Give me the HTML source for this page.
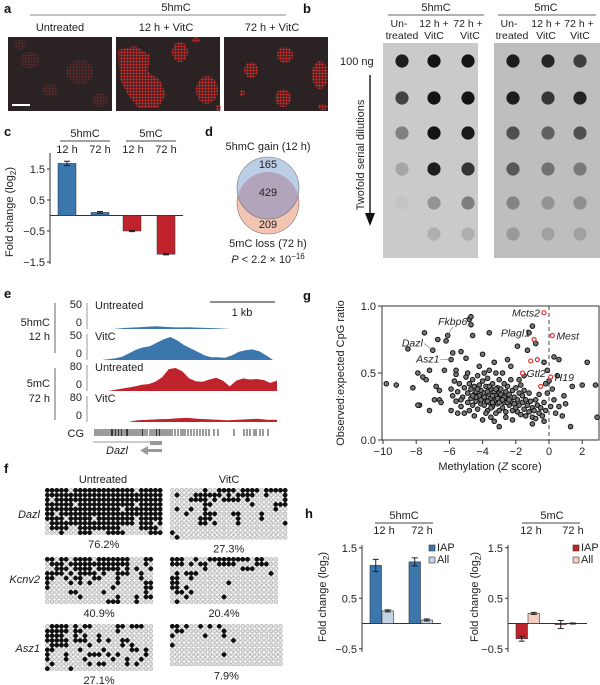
<!DOCTYPE html>
<html><head><meta charset="utf-8"><style>
body{margin:0;background:#fff}
svg{display:block;font-family:"Liberation Sans",sans-serif}
.t{font-size:11px;fill:#222}
.l{font-size:13px;font-weight:bold;fill:#111}
.k{font-size:10.5px;fill:#222}
.i{font-style:italic}
</style></head><body>
<svg id="s" width="600" height="685" viewBox="0 0 600 685" xmlns="http://www.w3.org/2000/svg">
<defs>
<pattern id="cells" width="3" height="3" patternUnits="userSpaceOnUse"><circle cx="1.5" cy="1.5" r="1.15" fill="#e02a2a"/></pattern>
<pattern id="cellsDim" width="3" height="3" patternUnits="userSpaceOnUse"><circle cx="1.5" cy="1.5" r="1.1" fill="#5e2a2c"/></pattern>
</defs>
<!-- panel a -->
<g>
<text class="l" x="4" y="13">a</text>
<text class="t" x="176" y="11" text-anchor="middle">5hmC</text>
<line x1="30" y1="15" x2="286" y2="15" stroke="#888"/>
<text class="t" x="60" y="31" text-anchor="middle">Untreated</text>
<text class="t" x="166" y="31" text-anchor="middle">12 h + VitC</text>
<text class="t" x="272" y="31" text-anchor="middle">72 h + VitC</text>
<rect x="8" y="37" width="104" height="74" fill="#2b2223"/>
<rect x="116" y="37" width="104" height="74" fill="#2b2223"/>
<rect x="224" y="37" width="104" height="74" fill="#2b2223"/>
<g fill="url(#cellsDim)">
<ellipse cx="30" cy="60" rx="10" ry="8"/><ellipse cx="80" cy="72" rx="14" ry="12"/><ellipse cx="50" cy="90" rx="8" ry="6"/><ellipse cx="100" cy="100" rx="8" ry="7"/><ellipse cx="20" cy="45" rx="6" ry="5"/>
</g>
<g fill="url(#cells)">
<path d="M118 50 L135 46 L150 55 L148 72 L160 80 L166 95 L158 108 L138 108 L128 95 L120 80 Z"/>
<ellipse cx="180" cy="52" rx="8" ry="10"/><ellipse cx="207" cy="90" rx="11" ry="14"/><ellipse cx="196" cy="40" rx="4" ry="3"/><ellipse cx="218" cy="108" rx="3" ry="3"/>
<ellipse cx="251" cy="70" rx="7" ry="8"/><ellipse cx="285" cy="55" rx="8" ry="8"/><ellipse cx="283" cy="98" rx="8" ry="9"/><ellipse cx="320" cy="75" rx="8" ry="14"/><ellipse cx="242" cy="93" rx="3" ry="3"/><ellipse cx="323" cy="107" rx="5" ry="3"/>
</g>
<line x1="12" y1="105" x2="30" y2="105" stroke="#fff" stroke-width="2"/>
</g>
<!-- panel b -->
<g>
<text class="l" x="303" y="13">b</text>
<text class="t" x="436" y="11" text-anchor="middle">5hmC</text>
<line x1="388" y1="15" x2="484" y2="15" stroke="#666"/>
<text class="t" x="546" y="11" text-anchor="middle">5mC</text>
<line x1="498" y1="15" x2="596" y2="15" stroke="#666"/>
<g class="k" text-anchor="middle">
<text x="399" y="27">Un-</text><text x="402" y="39">treated</text>
<text x="434" y="27">12 h +</text><text x="434" y="39">VitC</text>
<text x="468" y="27">72 h +</text><text x="470" y="39">VitC</text>
<text x="509" y="27">Un-</text><text x="512" y="39">treated</text>
<text x="546" y="27">12 h +</text><text x="546" y="39">VitC</text>
<text x="579" y="27">72 h +</text><text x="580" y="39">VitC</text>
</g>
<rect x="383" y="43" width="95" height="215" fill="#cacaca"/>
<rect x="494" y="43" width="106" height="215" fill="#bebebe"/>
<text class="t" x="340" y="65">100 ng</text>
<line x1="370" y1="75" x2="370" y2="215" stroke="#111" stroke-width="1.4"/>
<path d="M365 213 L370 226 L375 213 Z" fill="#111"/>
<text class="t" transform="translate(364,155) rotate(-90)" text-anchor="middle">Twofold serial dilutions</text>
<g id="dots"></g>
</g>
<!-- panel c -->
<g>
<text class="l" x="4" y="136">c</text>
<text class="t" x="85" y="137" text-anchor="middle">5hmC</text>
<line x1="60" y1="141" x2="110" y2="141" stroke="#444"/>
<text class="t" x="151" y="137" text-anchor="middle">5mC</text>
<line x1="126" y1="141" x2="176" y2="141" stroke="#444"/>
<g class="t" text-anchor="middle"><text x="67" y="153">12 h</text><text x="100" y="153">72 h</text><text x="133" y="153">12 h</text><text x="166" y="153">72 h</text></g>
<text class="t" transform="translate(13,212) rotate(-90)" text-anchor="middle">Fold change (log<tspan font-size="8" dy="3">2</tspan><tspan dy="-3">)</tspan></text>
<g id="chartC"></g>
</g>
<!-- panel d -->
<g>
<text class="l" x="205" y="136">d</text>
<text class="t" x="268" y="150" text-anchor="middle">5hmC gain (12 h)</text>
<circle cx="268" cy="203" r="31" fill="#f3c4b1" stroke="#777" stroke-width="0.6"/>
<circle cx="268" cy="188" r="31" fill="#bccde6" stroke="#777" stroke-width="0.6"/>
<clipPath id="vc"><circle cx="268" cy="203" r="31"/></clipPath>
<circle cx="268" cy="188" r="31" fill="#b2a5bb" stroke="#777" stroke-width="0.6" clip-path="url(#vc)"/>
<text class="t" x="268" y="168" text-anchor="middle">165</text>
<text class="t" x="268" y="196" text-anchor="middle">429</text>
<text class="t" x="268" y="228" text-anchor="middle">209</text>
<text class="t" x="268" y="247" text-anchor="middle">5mC loss (72 h)</text>
<text class="t" x="268" y="263" text-anchor="middle"><tspan class="i">P</tspan> &lt; 2.2 × 10<tspan font-size="8" dy="-4">−16</tspan></text>
</g>
<!-- panel e -->
<g>
<text class="l" x="4" y="298">e</text>
<text class="t" x="50" y="326" text-anchor="end">5hmC</text><text class="t" x="50" y="340" text-anchor="end">12 h</text>
<line x1="55" y1="303" x2="55" y2="353" stroke="#888" stroke-width="1.3"/>
<text class="t" x="50" y="387" text-anchor="end">5mC</text><text class="t" x="50" y="402" text-anchor="end">72 h</text>
<line x1="55" y1="368" x2="55" y2="420" stroke="#888" stroke-width="1.3"/>
<line x1="210" y1="302" x2="275" y2="302" stroke="#222"/>
<text class="t" x="242" y="316" text-anchor="middle">1 kb</text>
<g id="tracks"></g>
<text class="t" x="84" y="437" text-anchor="end">CG</text>
<g id="cg"></g>
<line x1="93" y1="442" x2="160" y2="442" stroke="#999"/>
<rect x="150" y="441" width="12" height="4" fill="#999"/>
<path d="M162 449 L148 449 L148 446 L140 450.5 L148 455 L148 452 L162 452 Z" fill="#999"/>
<text class="t i" x="106" y="454">Dazl</text>
</g>
<!-- panel f -->
<g>
<text class="l" x="4" y="473">f</text>
<text class="t" x="103" y="483" text-anchor="middle">Untreated</text>
<text class="t" x="229" y="483" text-anchor="middle">VitC</text>
<text class="t i" x="40" y="518" text-anchor="end">Dazl</text>
<text class="t i" x="40" y="583" text-anchor="end">Kcnv2</text>
<text class="t i" x="40" y="652" text-anchor="end">Asz1</text>
<g id="grids"></g>
</g>
<!-- panel g -->
<g>
<text class="l" x="303" y="300">g</text>
<text class="t" transform="translate(344,373) rotate(-90)" text-anchor="middle">Observed:expected CpG ratio</text>
<text class="t" x="490" y="470" text-anchor="middle">Methylation (<tspan class="i">Z</tspan> score)</text>
<g id="scatter"></g>
</g>
<!-- panel h -->
<g>
<text class="l" x="305" y="518">h</text>
<text class="t" x="404" y="519" text-anchor="middle">5hmC</text>
<line x1="375" y1="523" x2="433" y2="523" stroke="#444"/>
<text class="t" x="384" y="534" text-anchor="middle">12 h</text><text class="t" x="422" y="534" text-anchor="middle">72 h</text>
<text class="t" x="552" y="519" text-anchor="middle">5mC</text>
<line x1="522" y1="523" x2="580" y2="523" stroke="#444"/>
<text class="t" x="531" y="534" text-anchor="middle">12 h</text><text class="t" x="573" y="534" text-anchor="middle">72 h</text>
<text class="t" transform="translate(326,597) rotate(-90)" text-anchor="middle">Fold change (log<tspan font-size="8" dy="3">2</tspan><tspan dy="-3">)</tspan></text>
<text class="t" transform="translate(478,597) rotate(-90)" text-anchor="middle">Fold change (log<tspan font-size="8" dy="3">2</tspan><tspan dy="-3">)</tspan></text>
<g id="chartH"></g>
</g>
</svg>
<script>
// ---- data ----
const blotCols5hmC = ["Untreated","12h","72h"];
const blot5hmC = [[0.95,0.75,0.4,0.2,0.04,0],[1,1,1,0.95,0.3,0.15],[1,1,0.97,0.82,0.42,0.15]];
const blot5mC = [[0.95,0.95,0.65,0.6,0.35,0.22],[0.9,0.8,0.55,0.45,0.25,0.17],[0.75,0.9,0.65,0.4,0.28,0.17]];

const cLabels = ["5hmC 12h","5hmC 72h","5mC 12h","5mC 72h"];
const cValues = [1.68,0.1,-0.5,-1.25];
const cErrors = [0.07,0.03,0.02,0.02];
const cTicks = [1.5,0.5,-0.5,-1.5];

const trackNames = ["5hmC untreated","5hmC VitC","5mC untreated","5mC VitC"];
const trackScale = ["50","50","80","80"];
const track1 = [0,0.04,0.06,0.08,0.1,0.12,0.1,0.08,0.07,0.08,0.06,0.05,0.04,0.02,0];
const track2 = [0,0.04,0.08,0.15,0.3,0.45,0.55,0.6,0.75,0.9,1.0,0.85,0.65,0.5,0.35,0.2,0.12,0.12,0.1,0.2,0.35,0.42,0.46,0.38,0.2,0];
const track3 = [0,0.05,0.1,0.15,0.2,0.27,0.3,0.4,0.6,0.95,1.0,0.85,0.55,0.42,0.4,0.5,0.58,0.45,0.2,0.45,0.55,0.5,0.52,0.48,0.35,0.45];
const track4 = [0,0.08,0.1,0.12,0.13,0.16,0.18,0.14,0.12,0.1,0.08,0.1,0.12,0.14,0.1,0.1];

const fGrids = {
 dazlU:["1111101111111111111011111","1111111111111111111111111","1011111111111111111111111","1111110111111111111011111","1111111111111111011111111","1101111111111111111111111","1111011111011111111011111","0111111111111111111011101","0111100111111111000011110","0001000111000111100000111"],
 dazlV:["0000000100111101111011111","0100011111101011110010001","0000111101011110100000001","0000000110000000010000111","0100100100000000000000100","0001000111000110000100000","0000001110000010000100000","0000001101000010000000001","0000000000000000000000000","1000000000000000000000000","0100000000000000000000000"],
 kcnU:["11011011110111111100011","01110111111111111100010","00111011110111110101001","11110101111010011100100","11001011001100010000100","10000101010000010000011","10000000000000100000011","00000110000010000000010","00000001000000010001011","00000000000001110001000"],
 kcnV:["11100100111111111011000","11101011001111000011100","00000001000000011100000","01011100000000000000010","11001000000000000000000","11000000000010000000000","11010000000000000000000","01101000000000000000000","00010000000100000000000","01000000000000000000000"],
 aszU:["01111010110000011011100","11111011000000010000000","11110010100100000000000","11111011100101001100000","01111000010000001010000","11000001000010000011010","10001000011101010000010","10001000100000100100100","01000000010110000101000","10000100000000000000000"],
 aszV:["110100101010000000000000","011000000001000000000000","100000010001000000000000","000000000000010000000000","100000000000000000000000","000000000000000000000000","000000000001000000000000","000000000000000000000000","000000000000000000000000"]
};
const fPercents = ["76.2%","27.3%","40.9%","20.4%","27.1%","7.9%"];

const scatterX = [-9.8,-9.2,-8.5,-8.2,-7.9,-7.8,-7.6,-7.5,-7.4,-7.2,-7,-6.9,-6.8,-6.7,-6.6,-6.3,-6.2,-6.1,-5.9,-5.8,-5.6,-5.3,-4.8,-4.7,-4.7,-4.6,-3.6,-1.9,-1.0,-1.2,-0.8,-1.3,0.3,0.6,2.3,2.0,2.8,2.9,1.4,1.3,0.8,0.9,1.0,0.5,-0.3,-0.1,-2.5,-3.3,-4.0,-5.0,-6.6,-7.9,-7.2,-6.5,-5.5,-1.0,-0.3,-2.2,-3.0,-4.0,
-5.9,-5.8,-5.7,-5.6,-5.5,-5.4,-5.3,-5.2,-5.1,-5.0,-5.9,-5.6,-5.3,-5.1,
-4.9,-4.9,-4.8,-4.8,-4.7,-4.7,-4.6,-4.6,-4.5,-4.5,-4.4,-4.4,-4.3,-4.3,-4.2,-4.2,-4.1,-4.1,-4.0,-4.0,-4.9,-4.5,-4.2,
-3.9,-3.9,-3.8,-3.8,-3.7,-3.7,-3.6,-3.6,-3.5,-3.5,-3.4,-3.4,-3.3,-3.3,-3.2,-3.2,-3.1,-3.1,-3.0,-3.0,-3.9,-3.6,-3.2,-3.5,-3.8,-3.3,
-2.9,-2.9,-2.8,-2.8,-2.7,-2.7,-2.6,-2.6,-2.5,-2.5,-2.4,-2.4,-2.3,-2.3,-2.2,-2.2,-2.1,-2.1,-2.0,-2.0,-2.8,-2.3,-2.6,
-1.9,-1.9,-1.8,-1.8,-1.7,-1.7,-1.6,-1.6,-1.5,-1.5,-1.4,-1.4,-1.3,-1.2,-1.2,-1.1,-1.0,-1.0,-1.8,-1.5,
-0.9,-0.8,-0.8,-0.7,-0.6,-0.6,-0.5,-0.4,-0.3,-0.2,-0.1,0.0,0.1,0.3,0.4,0.6,-0.2,0.2,
-4.4,-4.1,-3.9,-3.7,-3.7,-3.4,-3.4,-3.1,-3.0,-2.9,-2.7,-2.5,-3.6,-4.3,-3.2,-2.8,-4.6,-3.5,-3.0,-2.4];
const scatterY = [0.42,0.41,0.68,0.39,0.5,0.26,0.47,0.8,0.45,0.52,0.67,0.3,0.4,0.75,0.37,0.52,0.74,0.78,0.6,0.65,0.49,0.66,0.9,0.92,0.86,0.78,0.8,0.7,0.85,0.8,0.72,0.67,0.62,0.6,0.58,0.41,0.41,0.17,0.4,0.1,0.18,0.33,0.27,0.48,0.58,0.52,0.6,0.58,0.64,0.61,0.3,0.26,0.22,0.28,0.2,0.12,0.14,0.15,0.1,0.15,
0.38,0.33,0.44,0.29,0.36,0.42,0.25,0.32,0.39,0.47,0.22,0.52,0.3,0.2,
0.35,0.28,0.42,0.22,0.38,0.31,0.45,0.26,0.34,0.4,0.29,0.36,0.48,0.23,0.33,0.41,0.27,0.37,0.31,0.44,0.5,0.18,0.55,
0.35,0.26,0.4,0.3,0.22,0.46,0.34,0.28,0.38,0.31,0.25,0.42,0.36,0.29,0.33,0.2,0.39,0.27,0.35,0.45,0.5,0.52,0.5,0.17,0.2,0.14,
0.3,0.38,0.24,0.33,0.42,0.28,0.36,0.21,0.31,0.4,0.26,0.34,0.45,0.29,0.37,0.22,0.32,0.27,0.39,0.24,0.5,0.55,0.17,
0.3,0.21,0.35,0.26,0.19,0.41,0.28,0.33,0.23,0.37,0.18,0.3,0.26,0.21,0.35,0.29,0.17,0.24,0.45,0.48,
0.22,0.3,0.16,0.26,0.2,0.34,0.24,0.18,0.28,0.22,0.35,0.44,0.25,0.3,0.2,0.25,0.42,0.38,
0.32,0.3,0.32,0.36,0.29,0.33,0.28,0.31,0.28,0.34,0.32,0.28,0.4,0.38,0.38,0.3,0.33,0.24,0.22,0.3];
const imprintNames = ["Mcts2","Mest","Plagl1","","","Gtl2","H19",""];
const imprintX = [-0.3,0.2,-0.9,-1.1,-0.7,-1.6,0.1,-0.5];
const imprintY = [0.95,0.78,0.75,0.59,0.6,0.5,0.47,0.4];
const gXTicks = [-10,-8,-6,-4,-2,0,2];
const gYTicks = [0.0,0.5,1.0];

const hTicks = [1.5,0.5,-0.5];
const h5hmcIAP = [1.15,1.22], h5hmcAll = [0.25,0.07];
const h5hmcIAPerr = [0.12,0.08], h5hmcAllerr = [0.02,0.02];
const h5mcIAP = [-0.3,-0.02], h5mcAll = [0.2,0.0];
const h5mcIAPerr = [0.05,0.08], h5mcAllerr = [0.02,0.01];

// ---- drawing ----
const NS="http://www.w3.org/2000/svg";
function mk(parent,tag,attrs){const e=document.createElementNS(NS,tag);for(const k in attrs)e.setAttribute(k,attrs[k]);parent.appendChild(e);return e;}
function txt(parent,x,y,s,anchor,cls){const e=mk(parent,'text',{x:x,y:y,'text-anchor':anchor||'start',class:cls||'t'});e.textContent=s;return e;}

// b dots
(function(){
 const g=document.getElementById('dots');
 const rows=[61,98,133,169,203,234];
 function shade(v,bg){const c=Math.round(bg-(bg-20)*v);return 'rgb('+c+','+c+','+c+')';}
 [[blot5hmC,[402,434,468],202],[blot5mC,[513,548,580],190]].forEach(([data,xs,bg])=>{
  data.forEach((col,ci)=>col.forEach((v,ri)=>{
   const c=mk(g,'circle',{cx:xs[ci],cy:rows[ri],r:6.6,fill:shade(v,bg)});
   
   
  }));
 });
})();

// c bars
(function(){
 const g=document.getElementById('chartC');
 const y0=215.5, k=31; const y=v=>y0-v*k;
 const xs=[58,91,123,157], w=18;
 mk(g,'line',{x1:50,y1:153,x2:50,y2:264,stroke:'#333'});
 mk(g,'line',{x1:50,y1:y0,x2:183,y2:y0,stroke:'#333'});
 cTicks.forEach(t=>{mk(g,'line',{x1:47,y1:y(t),x2:50,y2:y(t),stroke:'#333'});txt(g,45,y(t)+4,t===1.5||t===0.5?String(t):'−'+Math.abs(t),'end');});
 cValues.forEach((v,i)=>{
  const b=mk(g,'rect',{x:xs[i],y:Math.min(y(v),y0),width:w,height:Math.abs(v*k),fill:i<2?'#3b76ad':'#c1232d',stroke:'#333','stroke-width':0.5});
  
  
  const cx=xs[i]+w/2;
  mk(g,'line',{x1:cx,y1:y(v+cErrors[i]),x2:cx,y2:y(v-cErrors[i]),stroke:'#222'});
  mk(g,'line',{x1:cx-3,y1:y(v+cErrors[i]),x2:cx+3,y2:y(v+cErrors[i]),stroke:'#222'});
  mk(g,'line',{x1:cx-3,y1:y(v-cErrors[i]),x2:cx+3,y2:y(v-cErrors[i]),stroke:'#222'});
 });
})();

// e tracks
(function(){
 const g=document.getElementById('tracks');
 const tr=[[track1,114,230,306,329,'#3b76ad','Untreated'],[track2,102,273,337,360,'#3b76ad','VitC'],[track3,108,277,368,391,'#c1232d','Untreated'],[track4,128,277,399,422,'#c1232d','VitC']];
 tr.forEach((t,i)=>{
  const [vals,x0,x1,top,base,col,lab]=t;
  mk(g,'line',{x1:87,y1:top-3,x2:87,y2:base,stroke:'#999'});
  txt(g,82,top+2,trackScale[i],'end');
  txt(g,82,base-3,'0','end');
  txt(g,95,top+3,lab,'start');
  const n=vals.length; let d='M'+x0+' '+base;
  vals.forEach((v,j)=>{d+=' L'+(x0+(x1-x0)*j/(n-1)).toFixed(1)+' '+(base-v*(base-top)).toFixed(1);});
  d+=' L'+x1+' '+base+' Z';
  const p=mk(g,'path',{d:d,fill:col});
  
  
 });
 const cg=document.getElementById('cg');
 const cgPos=[95,97,99,101,103,105,107,109,111,112,113,115,116,118,119,121,122,124,126,127,128,130,132,134,136,138,140,142,143,145,147,150,152,154,156,157,159,160,162,164,166,168,170,172,175,178,181,183,185,188,191,194,197,200,203,206,209,214,218,234,244,247,250,254,256,260,263,268];
 cgPos.forEach(x=>mk(cg,'line',{x1:x,y1:429,x2:x,y2:436,stroke:'#222','stroke-width':0.9}));
})();

// f grids
(function(){
 const g=document.getElementById('grids');
 const s=4.7;
 const layout=[['dazlU',45,488],['dazlV',170,488],['kcnU',45,557],['kcnV',170,557],['aszU',45,624],['aszV',170,624]];
 layout.forEach(([key,x0,y0],gi)=>{
  const rows=fGrids[key]; let maxC=0;
  rows.forEach((r,ri)=>{maxC=Math.max(maxC,r.length);[...r].forEach((c,ci)=>{
   mk(g,'circle',{cx:x0+ci*s+s/2,cy:y0+ri*s+s/2,r:c==='1'?2.2:2.0,fill:c==='1'?'#111':'#e2e2e2',stroke:c==='1'?'#111':'#999','stroke-width':0.5});
  });});
  const cx=x0+maxC*s/2, yb=y0+rows.length*s+13;
  txt(g,cx,yb,fPercents[gi],'middle','t');
 });
})();

// g scatter
(function(){
 const g=document.getElementById('scatter');
 const X=v=>549+v*16.6, Y=v=>440-v*134;
 mk(g,'rect',{x:382,y:Y(1),width:217,height:134,fill:'none',stroke:'#333'});
 gXTicks.forEach(t=>{mk(g,'line',{x1:X(t),y1:440,x2:X(t),y2:444,stroke:'#333'});txt(g,X(t),455,t<0?'−'+Math.abs(t):String(t),'middle');});
 gYTicks.forEach(t=>{mk(g,'line',{x1:378,y1:Y(t),x2:382,y2:Y(t),stroke:'#333'});txt(g,376,Y(t)+4,t.toFixed(1),'end');});
 mk(g,'line',{x1:X(0),y1:Y(1),x2:X(0),y2:440,stroke:'#444','stroke-dasharray':'4,3'});
 scatterX.forEach((x,i)=>{
  const c=mk(g,'circle',{cx:X(x),cy:Y(scatterY[i]),r:2.3,fill:'#777',stroke:'#111','stroke-width':1});
  
  
 });
 imprintX.forEach((x,i)=>{
  const c=mk(g,'circle',{cx:X(x),cy:Y(imprintY[i]),r:2,fill:'#fff',stroke:'#e03030','stroke-width':1.2});
  
  
  if(imprintNames[i]){
   const left=imprintNames[i]==='Mcts2'||imprintNames[i]==='Plagl1';
   txt(g,X(x)+(left?-4:4),Y(imprintY[i])+(imprintNames[i]==='Plagl1'?-3:4),imprintNames[i],left?'end':'start','k i');
  }
 });
 [['Fkbp6',-6.2,0.76,-5.8,0.88],['Dazl',-7.0,0.67,-7.6,0.72],['Asz1',-6.0,0.6,-6.6,0.6]].forEach(([n,px,py,lx,ly])=>{
  txt(g,X(lx),Y(ly)+3,n,n==='Fkbp6'?'middle':'end','k i');
  mk(g,'line',{x1:X(lx)+(n==='Fkbp6'?0:1),y1:Y(ly)+(n==='Fkbp6'?5:0),x2:X(px),y2:Y(py),stroke:'#777','stroke-width':0.6});
 });
})();

// h charts
(function(){
 const g=document.getElementById('chartH');
 function chart(ax,iap,all,iapE,allE,c1,c2,lx){
  const y0=623.5,k=50.5; const y=v=>y0-v*k;
  mk(g,'line',{x1:ax,y1:545,x2:ax,y2:652,stroke:'#333'});
  mk(g,'line',{x1:ax,y1:y0,x2:ax+79,y2:y0,stroke:'#333'});
  hTicks.forEach(t=>{mk(g,'line',{x1:ax-3,y1:y(t),x2:ax,y2:y(t),stroke:'#333'});txt(g,ax-5,y(t)+4,t>0?String(t):'−'+Math.abs(t),'end');});
  const gx=[ax+8,ax+47];
  [[iap,iapE,c1,0],[all,allE,c2,1]].forEach(([vals,errs,col,off])=>{
   vals.forEach((v,i)=>{
    const x=gx[i]+off*12;
    const b=mk(g,'rect',{x:x,y:Math.min(y(v),y0),width:11.5,height:Math.abs(v*k),fill:col,stroke:'#333','stroke-width':0.6});
    
    
    const cx=x+5.75;
    mk(g,'line',{x1:cx,y1:y(v+errs[i]),x2:cx,y2:y(v-errs[i]),stroke:'#222'});
    mk(g,'line',{x1:cx-3,y1:y(v+errs[i]),x2:cx+3,y2:y(v+errs[i]),stroke:'#222'});
    mk(g,'line',{x1:cx-3,y1:y(v-errs[i]),x2:cx+3,y2:y(v-errs[i]),stroke:'#222'});
   });
  });
  mk(g,'rect',{x:lx,y:545,width:6,height:6,fill:c1,stroke:'#333','stroke-width':0.6});
  txt(g,lx+8,551,'IAP','start');
  mk(g,'rect',{x:lx,y:557,width:6,height:6,fill:c2,stroke:'#333','stroke-width':0.6});
  txt(g,lx+8,563,'All','start');
 }
 chart(362,h5hmcIAP,h5hmcAll,h5hmcIAPerr,h5hmcAllerr,'#3b76ad','#c6d3e7',429);
 chart(508,h5mcIAP,h5mcAll,h5mcIAPerr,h5mcAllerr,'#c1232d','#f5cfc0',573);
})();
</script>
</body></html>
